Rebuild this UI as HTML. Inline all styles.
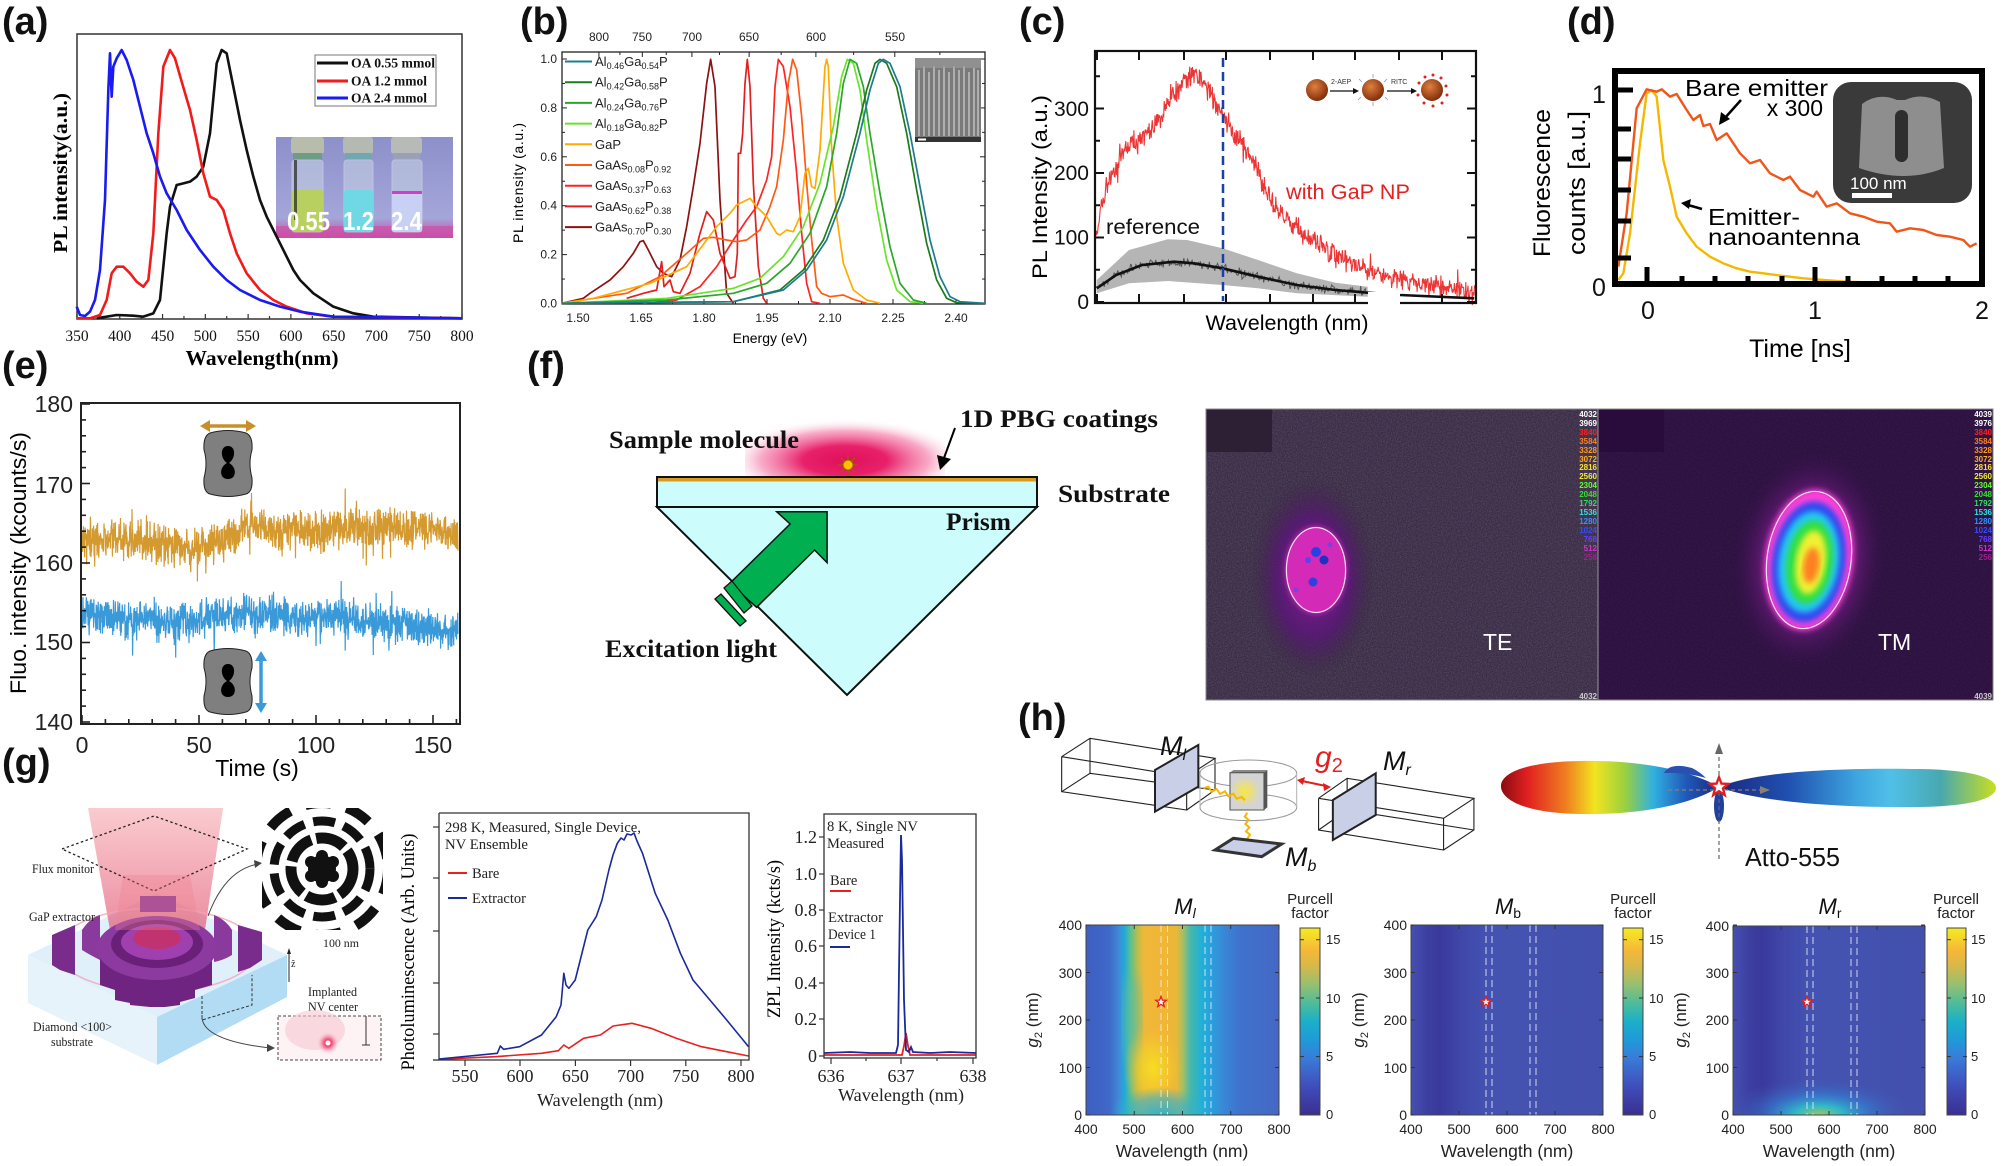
<!DOCTYPE html>
<html><head><meta charset="utf-8"><style>
html,body{margin:0;padding:0;background:#fff;}
svg{display:block;}
.sans{font-family:"Liberation Sans",Arial,sans-serif;}
.serif{font-family:"Liberation Serif","Times New Roman",serif;}
</style></head><body>
<svg id="S" width="2006" height="1166" viewBox="0 0 2006 1166" xmlns="http://www.w3.org/2000/svg" class="sans">
<defs>
<linearGradient id="lav" x1="0" y1="0" x2="0" y2="1"><stop offset="0" stop-color="#8d90c9"/><stop offset="0.8" stop-color="#a4a6da"/><stop offset="1" stop-color="#c04aa0"/></linearGradient>
<radialGradient id="brown" cx="0.4" cy="0.35" r="0.7"><stop offset="0" stop-color="#e08040"/><stop offset="1" stop-color="#7a2808"/></radialGradient>
<radialGradient id="pinkglow" cx="0.5" cy="0.75" r="0.6"><stop offset="0" stop-color="#e0105a"/><stop offset="0.35" stop-color="#e8206a"/><stop offset="0.7" stop-color="#f470a0" stop-opacity="0.6"/><stop offset="1" stop-color="#ffffff" stop-opacity="0"/></radialGradient>
<radialGradient id="teglow" cx="0.5" cy="0.5" r="0.5"><stop offset="0" stop-color="#8a1aa0"/><stop offset="0.6" stop-color="#5a1578" stop-opacity="0.8"/><stop offset="1" stop-color="#3a2045" stop-opacity="0"/></radialGradient>
<radialGradient id="tmglow" cx="0.5" cy="0.5" r="0.5"><stop offset="0" stop-color="#c02aa8"/><stop offset="0.6" stop-color="#701a80" stop-opacity="0.7"/><stop offset="1" stop-color="#2a0f40" stop-opacity="0"/></radialGradient>
<linearGradient id="lobeL" x1="1501" y1="0" x2="1719" y2="0" gradientUnits="userSpaceOnUse"><stop offset="0" stop-color="#8a0c10"/><stop offset="0.12" stop-color="#e02020"/><stop offset="0.3" stop-color="#f08020"/><stop offset="0.43" stop-color="#f2e420"/><stop offset="0.57" stop-color="#9ad040"/><stop offset="0.7" stop-color="#30b0e0"/><stop offset="0.85" stop-color="#2058b8"/><stop offset="1" stop-color="#1c2a80"/></linearGradient>
<linearGradient id="lobeR" x1="1719" y1="0" x2="1996" y2="0" gradientUnits="userSpaceOnUse"><stop offset="0" stop-color="#1a2880"/><stop offset="0.25" stop-color="#2050b0"/><stop offset="0.5" stop-color="#3ea6e0"/><stop offset="0.62" stop-color="#50c0e8"/><stop offset="0.8" stop-color="#48a8b0"/><stop offset="1" stop-color="#c8e020"/></linearGradient>
<linearGradient id="hm1" x1="0" y1="0" x2="1" y2="0">
<stop offset="0" stop-color="#3d5fc2"/><stop offset="0.12" stop-color="#3f68c8"/><stop offset="0.17" stop-color="#3f8ad8"/><stop offset="0.2" stop-color="#22aad8"/><stop offset="0.23" stop-color="#5abf90"/><stop offset="0.27" stop-color="#c0bd48"/><stop offset="0.3" stop-color="#eeb83a"/><stop offset="0.4" stop-color="#f3b535"/><stop offset="0.47" stop-color="#e8b83a"/><stop offset="0.5" stop-color="#a8c060"/><stop offset="0.54" stop-color="#48b8a8"/><stop offset="0.6" stop-color="#20b0d8"/><stop offset="0.65" stop-color="#2b9fdc"/><stop offset="0.72" stop-color="#3a85d5"/><stop offset="0.8" stop-color="#3f72cc"/><stop offset="1" stop-color="#4468c4"/></linearGradient>
<linearGradient id="hm2" x1="0" y1="0" x2="1" y2="0"><stop offset="0" stop-color="#4550b0"/><stop offset="0.08" stop-color="#3d40a2"/><stop offset="0.15" stop-color="#3a389c"/><stop offset="0.25" stop-color="#3f46a8"/><stop offset="0.4" stop-color="#4453b1"/><stop offset="1" stop-color="#4350ad"/></linearGradient>
<radialGradient id="yblob" cx="0.5" cy="0.5" r="0.5"><stop offset="0" stop-color="#f6e020" stop-opacity="0.95"/><stop offset="0.5" stop-color="#f5d028" stop-opacity="0.6"/><stop offset="1" stop-color="#f3b535" stop-opacity="0"/></radialGradient>
<radialGradient id="cyanb" cx="0.5" cy="0.5" r="0.5"><stop offset="0" stop-color="#2ab4d0" stop-opacity="0.95"/><stop offset="0.6" stop-color="#30b0d0" stop-opacity="0.6"/><stop offset="1" stop-color="#30b0d0" stop-opacity="0"/></radialGradient>
<radialGradient id="hm3glow" cx="0.5" cy="0.5" r="0.5"><stop offset="0" stop-color="#9cc860"/><stop offset="0.25" stop-color="#30b8c8"/><stop offset="0.55" stop-color="#3282d5" stop-opacity="0.6"/><stop offset="1" stop-color="#4350ad" stop-opacity="0"/></radialGradient>
<linearGradient id="parula" x1="0" y1="1" x2="0" y2="0"><stop offset="0" stop-color="#3b2f8f"/><stop offset="0.15" stop-color="#3f4dbb"/><stop offset="0.3" stop-color="#3b7ad8"/><stop offset="0.4" stop-color="#1f9ad8"/><stop offset="0.5" stop-color="#1ab0c8"/><stop offset="0.6" stop-color="#50bc98"/><stop offset="0.7" stop-color="#98c070"/><stop offset="0.8" stop-color="#d8b848"/><stop offset="0.88" stop-color="#f5b838"/><stop offset="1" stop-color="#f5ec20"/></linearGradient>
<radialGradient id="yglow" cx="0.5" cy="0.5" r="0.5"><stop offset="0" stop-color="#f8e840"/><stop offset="1" stop-color="#f8e840" stop-opacity="0"/></radialGradient>
<radialGradient id="reddot" cx="0.5" cy="0.5" r="0.5"><stop offset="0" stop-color="#ff2050"/><stop offset="0.4" stop-color="#f04070" stop-opacity="0.8"/><stop offset="1" stop-color="#ffc0d0" stop-opacity="0"/></radialGradient>
<linearGradient id="cone" x1="0" y1="0" x2="0" y2="1"><stop offset="0" stop-color="#f5a0a8" stop-opacity="0.55"/><stop offset="1" stop-color="#e04060" stop-opacity="0.6"/></linearGradient>
<filter id="noise" x="0" y="0" width="1" height="1"><feTurbulence type="fractalNoise" baseFrequency="0.8" numOctaves="1" seed="4"/><feColorMatrix type="matrix" values="0 0 0 0 0.75  0 0 0 0 0.7  0 0 0 0 0.75  0.9 0 0 0 -0.3"/></filter>
<filter id="blur3"><feGaussianBlur stdDeviation="3"/></filter>
<filter id="blur6"><feGaussianBlur stdDeviation="6"/></filter>
<clipPath id="cpPat"><rect x="262" y="808" width="121" height="122"/></clipPath>
<clipPath id="cpTE"><rect x="1206" y="409" width="392" height="291"/></clipPath>
<clipPath id="cpTM"><rect x="1598" y="409" width="395" height="291"/></clipPath>
<polygon id="star" points="0,-5.5 1.35,-1.9 5.2,-1.7 2.2,0.7 3.2,4.5 0,2.3 -3.2,4.5 -2.2,0.7 -5.2,-1.7 -1.35,-1.9" fill="#fff" stroke="#e02020" stroke-width="1.3"/>
</defs>
<rect width="2006" height="1166" fill="#fff"/>

<!-- panel labels -->
<g font-weight="bold" font-size="38" fill="#111">
<text x="2" y="34">(a)</text><text x="520" y="34">(b)</text><text x="1019" y="34">(c)</text><text x="1567" y="34">(d)</text>
<text x="2" y="378">(e)</text><text x="527" y="378">(f)</text><text x="2" y="775">(g)</text><text x="1018" y="730">(h)</text>
</g>

<!-- ================= (a) ================= -->
<g id="pa">
<rect x="77" y="34" width="385" height="285" fill="none" stroke="#333" stroke-width="1.5"/>
<g id="aticks" stroke="#333" stroke-width="1.2"></g>
<g class="serif" font-size="15.5" text-anchor="middle" fill="#111">
<text x="77" y="341">350</text><text x="119.8" y="341">400</text><text x="162.6" y="341">450</text><text x="205.3" y="341">500</text><text x="248.1" y="341">550</text><text x="290.9" y="341">600</text><text x="333.7" y="341">650</text><text x="376.4" y="341">700</text><text x="419.2" y="341">750</text><text x="462" y="341">800</text>
</g>
<text class="serif" x="262" y="365" font-size="21" font-weight="bold" text-anchor="middle" textLength="153" lengthAdjust="spacingAndGlyphs">Wavelength(nm)</text>
<text class="serif" transform="translate(67,173) rotate(-90)" font-size="20" font-weight="bold" text-anchor="middle" textLength="160" lengthAdjust="spacingAndGlyphs">PL intensity(a.u.)</text>
<rect x="276" y="137" width="177" height="101" fill="url(#lav)"/>
<rect x="276" y="226" width="177" height="12" fill="#d050a8" opacity="0.7"/>
<g>
<rect x="291" y="137" width="33" height="17" rx="3" fill="#b8bcaa"/><rect x="293" y="153" width="29" height="7" fill="#6e9c84"/>
<rect x="292" y="160" width="31" height="72" rx="3" fill="#c8d4e4" opacity="0.55" stroke="#e0e4f0" stroke-width="1"/>
<rect x="292" y="190" width="31" height="42" rx="2" fill="#b8d060"/>
<rect x="294" y="160" width="3" height="60" fill="#222" opacity="0.7"/>
<rect x="343" y="137" width="30" height="17" rx="3" fill="#b4bab2"/><rect x="345" y="153" width="26" height="7" fill="#70a8b0"/>
<rect x="344" y="160" width="29" height="72" rx="3" fill="#c8d4e4" opacity="0.55" stroke="#e0e4f0" stroke-width="1"/>
<rect x="344" y="190" width="29" height="42" rx="2" fill="#70d8e4"/>
<rect x="391" y="137" width="31" height="17" rx="3" fill="#b8bab8"/><rect x="393" y="153" width="27" height="7" fill="#9aa0b8"/>
<rect x="392" y="160" width="30" height="72" rx="3" fill="#c8d4e4" opacity="0.55" stroke="#e0e4f0" stroke-width="1"/>
<rect x="392" y="192" width="30" height="40" rx="2" fill="#c8d0f4"/><rect x="392" y="191" width="30" height="3" fill="#d040c0"/>
</g>
<g fill="#fff" font-weight="bold" font-size="26">
<text x="287" y="230" textLength="43" lengthAdjust="spacingAndGlyphs">0.55</text>
<text x="343" y="230" textLength="31" lengthAdjust="spacingAndGlyphs">1.2</text>
<text x="391" y="230" textLength="31" lengthAdjust="spacingAndGlyphs">2.4</text>
</g>
<g transform="scale(0.33333)" fill="none" stroke-width="2.6" stroke-linejoin="round">
<polyline vector-effect="non-scaling-stroke" stroke="#111" points="290,955 350,945 400,947 430,950 460,940 480,900 500,700 510,620 530,555 550,550 570,545 590,530 610,500 630,400 650,190 665,150 680,160 700,260 720,360 740,450 760,530 780,600 800,650 820,690 840,730 860,770 880,810 900,840 940,880 1000,920 1060,940 1120,950 1385,955"/>
<polyline vector-effect="non-scaling-stroke" stroke="#f21a1a" points="230,955 270,955 300,945 320,900 335,820 350,800 370,800 390,820 410,845 430,860 445,840 460,700 475,400 490,200 510,150 525,175 545,245 570,330 590,420 610,520 630,590 650,600 670,630 690,700 710,760 740,820 780,870 820,900 860,920 920,940 1000,950 1385,955"/>
<polyline vector-effect="non-scaling-stroke" stroke="#1a1af2" points="230,920 240,945 255,948 270,935 285,900 300,810 315,600 325,270 330,160 335,290 340,200 350,175 365,150 380,180 400,240 420,320 440,400 460,460 480,530 500,580 530,630 560,690 600,750 640,800 680,840 720,870 780,900 840,920 900,935 1000,950 1385,955"/>
</g>
<rect x="315" y="55" width="121" height="51" fill="#fff" stroke="#777" stroke-width="1"/>
<line x1="317" y1="63" x2="348" y2="63" stroke="#111" stroke-width="3"/>
<line x1="317" y1="81" x2="348" y2="81" stroke="#f21a1a" stroke-width="3"/>
<line x1="317" y1="98" x2="348" y2="98" stroke="#1a1af2" stroke-width="3"/>
<g class="serif" font-weight="bold" font-size="13.5" fill="#111">
<text x="351" y="67.5" textLength="84" lengthAdjust="spacingAndGlyphs">OA 0.55 mmol</text>
<text x="351" y="85.5" textLength="76" lengthAdjust="spacingAndGlyphs">OA 1.2 mmol</text>
<text x="351" y="102.5" textLength="76" lengthAdjust="spacingAndGlyphs">OA 2.4 mmol</text>
</g>
</g>

<!-- ================= (b) ================= -->
<g id="pb">
<rect x="562" y="52" width="423" height="252" fill="none" stroke="#222" stroke-width="1.3"/>
<g id="bticks" stroke="#222" stroke-width="1"></g>
<g font-size="12" fill="#222" text-anchor="end">
<text x="557" y="307.5">0.0</text><text x="557" y="258.6">0.2</text><text x="557" y="209.7">0.4</text><text x="557" y="160.8">0.6</text><text x="557" y="111.9">0.8</text><text x="557" y="63">1.0</text>
</g>
<g font-size="12" fill="#222" text-anchor="middle">
<text x="578" y="322">1.50</text><text x="641" y="322">1.65</text><text x="704" y="322">1.80</text><text x="767" y="322">1.95</text><text x="830" y="322">2.10</text><text x="893" y="322">2.25</text><text x="956" y="322">2.40</text>
<text x="599" y="41">800</text><text x="642" y="41">750</text><text x="692" y="41">700</text><text x="749" y="41">650</text><text x="816" y="41">600</text><text x="895" y="41">550</text>
</g>
<text x="770" y="343" font-size="14" text-anchor="middle">Energy (eV)</text>
<text transform="translate(523,183) rotate(-90)" font-size="14" text-anchor="middle" textLength="120">PL intensity (a.u.)</text>
<rect x="915" y="58" width="66" height="84" fill="#7a7a7a"/>
<g stroke="#d8d8d8" stroke-width="1.3" opacity="0.85">
<line x1="919" y1="70" x2="919" y2="136"/><line x1="924" y1="66" x2="924" y2="136"/><line x1="929" y1="72" x2="929" y2="136"/><line x1="934" y1="66" x2="934" y2="136"/><line x1="939" y1="70" x2="939" y2="136"/><line x1="944" y1="66" x2="944" y2="136"/><line x1="949" y1="72" x2="949" y2="136"/><line x1="954" y1="66" x2="954" y2="136"/><line x1="959" y1="70" x2="959" y2="136"/><line x1="964" y1="66" x2="964" y2="136"/><line x1="969" y1="72" x2="969" y2="136"/><line x1="974" y1="68" x2="974" y2="136"/><line x1="978" y1="70" x2="978" y2="136"/>
</g>
<rect x="915" y="58" width="66" height="10" fill="#9a9a9a" opacity="0.7"/>
<rect x="915" y="137" width="66" height="5" fill="#333"/><rect x="918" y="138.5" width="8" height="2" fill="#fff"/>
<g transform="translate(500,0) scale(0.33333)" fill="none" stroke-width="1.7" stroke-linejoin="round">
<polyline vector-effect="non-scaling-stroke" stroke="#8b1212" points="185,910 250,895 270,880 300,860 330,840 370,800 400,760 420,725 430,722 445,750 470,800 490,820 515,830 540,780 560,680 580,560 600,430 620,250 632,178 645,260 660,600 680,880 700,910"/>
<polyline vector-effect="non-scaling-stroke" stroke="#e02020" points="380,895 430,880 470,870 485,785 492,860 510,840 520,875 540,880 570,820 600,700 620,635 640,660 660,760 690,835 705,830 712,760 715,460 722,460 728,400 735,250 742,178 750,260 760,550 775,800 790,895 800,910"/>
<polyline vector-effect="non-scaling-stroke" stroke="#ff2424" points="430,910 530,900 600,860 650,800 700,720 740,660 770,620 800,540 815,470 825,260 835,178 850,200 870,320 890,520 905,700 920,850 935,905 960,910"/>
<polyline vector-effect="non-scaling-stroke" stroke="#ff5a14" points="185,910 380,880 480,830 560,760 610,715 640,712 680,720 710,725 740,720 780,690 810,620 830,560 850,420 865,250 878,178 890,210 905,350 920,550 935,720 950,860 965,880 990,890 1030,885 1060,898 1100,910"/>
<polyline vector-effect="non-scaling-stroke" stroke="#ffab00" points="185,910 280,895 450,850 560,800 620,720 650,680 690,640 710,615 750,595 770,620 800,650 830,700 840,705 860,690 880,695 900,650 915,520 925,505 935,560 945,565 960,450 975,200 980,178 985,200 995,450 1010,650 1030,790 1060,870 1100,900 1140,910"/>
<polyline vector-effect="non-scaling-stroke" stroke="#6be22b" points="185,910 500,895 700,865 780,835 850,770 910,680 960,550 1000,380 1025,230 1042,178 1060,190 1080,270 1100,420 1130,620 1160,780 1190,870 1230,905 1270,910"/>
<polyline vector-effect="non-scaling-stroke" stroke="#29a829" points="185,910 500,900 700,880 800,850 870,790 930,700 980,560 1010,400 1030,250 1050,178 1070,190 1090,260 1110,400 1140,580 1170,740 1200,850 1240,900 1280,910"/>
<polyline vector-effect="non-scaling-stroke" stroke="#1e7a1e" points="185,910 700,905 840,870 910,810 970,720 1020,590 1070,400 1100,270 1125,190 1140,178 1160,190 1190,260 1220,400 1250,570 1280,730 1310,840 1340,895 1370,908 1455,910"/>
<polyline vector-effect="non-scaling-stroke" stroke="#1c7c8c" points="185,910 700,905 850,870 920,810 980,720 1030,590 1080,400 1110,270 1135,190 1150,178 1170,190 1200,260 1230,400 1260,560 1290,720 1320,830 1350,890 1380,905 1455,910"/>
</g>
<g stroke-width="2">
<line x1="565" y1="61.5" x2="592" y2="61.5" stroke="#1c7c8c"/><line x1="565" y1="82.2" x2="592" y2="82.2" stroke="#1e7a1e"/><line x1="565" y1="102.9" x2="592" y2="102.9" stroke="#29a829"/><line x1="565" y1="123.6" x2="592" y2="123.6" stroke="#6be22b"/><line x1="565" y1="144.3" x2="592" y2="144.3" stroke="#ffab00"/><line x1="565" y1="165" x2="592" y2="165" stroke="#ff5a14"/><line x1="565" y1="185.7" x2="592" y2="185.7" stroke="#ff2424"/><line x1="565" y1="206.4" x2="592" y2="206.4" stroke="#e02020"/><line x1="565" y1="227.1" x2="592" y2="227.1" stroke="#8b1212"/>
</g>
<g font-size="13" fill="#222">
<text x="595" y="66">Al<tspan font-size="9" dy="3">0.46</tspan><tspan dy="-3">Ga</tspan><tspan font-size="9" dy="3">0.54</tspan><tspan dy="-3">P</tspan></text>
<text x="595" y="86.7">Al<tspan font-size="9" dy="3">0.42</tspan><tspan dy="-3">Ga</tspan><tspan font-size="9" dy="3">0.58</tspan><tspan dy="-3">P</tspan></text>
<text x="595" y="107.4">Al<tspan font-size="9" dy="3">0.24</tspan><tspan dy="-3">Ga</tspan><tspan font-size="9" dy="3">0.76</tspan><tspan dy="-3">P</tspan></text>
<text x="595" y="128.1">Al<tspan font-size="9" dy="3">0.18</tspan><tspan dy="-3">Ga</tspan><tspan font-size="9" dy="3">0.82</tspan><tspan dy="-3">P</tspan></text>
<text x="595" y="148.8">GaP</text>
<text x="595" y="169.5">GaAs<tspan font-size="9" dy="3">0.08</tspan><tspan dy="-3">P</tspan><tspan font-size="9" dy="3">0.92</tspan></text>
<text x="595" y="190.2">GaAs<tspan font-size="9" dy="3">0.37</tspan><tspan dy="-3">P</tspan><tspan font-size="9" dy="3">0.63</tspan></text>
<text x="595" y="210.9">GaAs<tspan font-size="9" dy="3">0.62</tspan><tspan dy="-3">P</tspan><tspan font-size="9" dy="3">0.38</tspan></text>
<text x="595" y="231.6">GaAs<tspan font-size="9" dy="3">0.70</tspan><tspan dy="-3">P</tspan><tspan font-size="9" dy="3">0.30</tspan></text>
</g>
</g>

<!-- ================= (c) ================= -->
<g id="pc">
<polygon points="1096.8,280 1129,250 1167.7,239.3 1187,240 1222.6,248.3 1258,260 1296.8,273.3 1335.5,282.7 1367.7,286.7 1367.7,296.7 1296.8,293.3 1258,288.3 1222.6,285 1167.7,281 1129,283.3 1096.8,293.3" fill="#a8a8a8" opacity="0.85"/>
<path id="cred" d="" fill="none" stroke="#ec3636" stroke-width="1.1"/>
<path id="cgray" d="" fill="none" stroke="#555" stroke-width="1"/>
<polyline points="1096.8,288.3 1116.1,275 1141.9,265 1174.2,261.7 1193.5,263.3 1222.6,268.3 1258,276.7 1296.8,285 1335.5,290 1367.7,292.7 1400,295 1474.2,298.3" fill="none" stroke="#111" stroke-width="2.6"/>
<line x1="1223" y1="58" x2="1223" y2="301" stroke="#1f3fa8" stroke-width="2.5" stroke-dasharray="9,5"/>
<rect x="1095" y="51" width="381" height="252" fill="none" stroke="#111" stroke-width="2.2"/>
<g id="cticks" stroke="#111" stroke-width="2"></g>
<rect x="1368" y="292" width="32" height="14" fill="#fff"/>
<g font-size="21" fill="#111" text-anchor="end">
<text x="1089" y="309">0</text><text x="1089" y="244.5">100</text><text x="1089" y="180">200</text><text x="1089" y="116">300</text>
</g>
<text x="1287" y="330" font-size="21" text-anchor="middle" textLength="163" lengthAdjust="spacingAndGlyphs">Wavelength (nm)</text>
<text transform="translate(1047,187) rotate(-90)" font-size="21" text-anchor="middle" textLength="184" lengthAdjust="spacingAndGlyphs">PL Intensity (a.u.)</text>
<text x="1286" y="199" font-size="21" fill="#e82020" textLength="124" lengthAdjust="spacingAndGlyphs">with GaP NP</text>
<text x="1106" y="234" font-size="21" fill="#111" textLength="94" lengthAdjust="spacingAndGlyphs">reference</text>
<circle cx="1317" cy="90" r="11" fill="url(#brown)"/><circle cx="1373" cy="90" r="11" fill="url(#brown)"/><circle cx="1432" cy="90" r="11" fill="url(#brown)"/>
<g stroke="#111" stroke-width="1.2"><line x1="1330" y1="91" x2="1356" y2="91"/><line x1="1387" y1="91" x2="1414" y2="91"/></g>
<polygon points="1359,91 1353,88 1353,94" fill="#111"/><polygon points="1417,91 1411,88 1411,94" fill="#111"/>
<text x="1331" y="84" font-size="7" fill="#333">2-AEP</text><text x="1391" y="84" font-size="7" fill="#333">RITC</text>
<g fill="#e02020"><circle cx="1419" cy="83" r="1.5"/><circle cx="1425" cy="77" r="1.5"/><circle cx="1433" cy="75" r="1.5"/><circle cx="1441" cy="78" r="1.5"/><circle cx="1446" cy="86" r="1.5"/><circle cx="1447" cy="95" r="1.5"/><circle cx="1442" cy="103" r="1.5"/><circle cx="1433" cy="106" r="1.5"/><circle cx="1424" cy="103" r="1.5"/><circle cx="1418" cy="95" r="1.5"/></g>
<g stroke="#8898b8" stroke-width="0.8" fill="none"><path d="M1362,82 l-3,-3 M1373,78 l0,-4 M1384,82 l3,-3 M1385,97 l3,3 M1373,102 l0,4 M1361,97 l-3,3"/></g>
</g>

<!-- ================= (d) ================= -->
<g id="pd">
<rect x="1833" y="82" width="139" height="121" rx="18" fill="#3a3a3a"/>
<path d="M1862,104 Q1878,92 1897,100 L1905,100 Q1922,92 1940,102 L1944,168 Q1905,184 1859,168 Z" fill="#8e8e8e"/>
<rect x="1895" y="110" width="13" height="52" rx="6.5" fill="#2e2e2e"/>
<text x="1850" y="189" font-size="17" fill="#fff">100 nm</text>
<rect x="1852" y="193" width="40" height="5" fill="#fff"/>
<g transform="translate(1530,0) scale(0.33333)" fill="none" stroke-width="2.4" stroke-linejoin="round">
<polyline vector-effect="non-scaling-stroke" stroke="#f5b800" points="265,840 280,820 300,700 330,430 350,280 365,270 380,290 400,480 420,560 440,650 470,700 500,740 540,770 580,790 620,805 660,815 700,820 760,828 820,835 880,840 950,845 1050,848 1150,850"/>
<polyline vector-effect="non-scaling-stroke" stroke="#f0561a" points="265,800 290,640 320,325 350,268 380,275 395,268 420,290 440,282 470,330 490,360 510,345 520,378 540,372 560,420 590,400 630,460 660,490 690,480 720,520 760,540 780,530 810,570 850,590 860,575 890,620 920,610 960,640 1000,650 1040,665 1080,670 1100,695 1140,685 1180,690 1220,705 1260,710 1300,720 1320,740 1340,730"/>
</g>
<rect x="1615" y="71" width="367" height="213" fill="none" stroke="#000" stroke-width="6"/>
<g stroke="#000" stroke-width="5">
<line x1="1618" y1="90" x2="1633" y2="90"/><line x1="1618" y1="129" x2="1631" y2="129"/><line x1="1618" y1="159" x2="1631" y2="159"/><line x1="1618" y1="190" x2="1631" y2="190"/><line x1="1618" y1="221" x2="1631" y2="221"/><line x1="1618" y1="258" x2="1631" y2="258"/>
<line x1="1647" y1="281" x2="1647" y2="267"/><line x1="1815" y1="281" x2="1815" y2="267"/>
<line x1="1682" y1="281" x2="1682" y2="276"/><line x1="1715" y1="281" x2="1715" y2="276"/><line x1="1748" y1="281" x2="1748" y2="276"/><line x1="1782" y1="281" x2="1782" y2="276"/><line x1="1848" y1="281" x2="1848" y2="276"/><line x1="1882" y1="281" x2="1882" y2="276"/><line x1="1915" y1="281" x2="1915" y2="276"/><line x1="1948" y1="281" x2="1948" y2="276"/>
</g>
<g font-size="25" fill="#111" text-anchor="middle">
<text x="1599" y="103">1</text><text x="1599" y="296">0</text>
<text x="1648" y="319">0</text><text x="1815" y="319">1</text><text x="1982" y="319">2</text>
</g>
<text x="1800" y="357" font-size="25" text-anchor="middle">Time [ns]</text>
<text transform="translate(1550,183) rotate(-90)" font-size="24" text-anchor="middle" textLength="148" lengthAdjust="spacingAndGlyphs">Fluorescence</text>
<text transform="translate(1585,183) rotate(-90)" font-size="24" text-anchor="middle" textLength="144" lengthAdjust="spacingAndGlyphs">counts [a.u.]</text>
<text x="1685" y="96" font-size="23" textLength="143" lengthAdjust="spacingAndGlyphs">Bare emitter</text>
<text x="1823" y="116" font-size="23" text-anchor="end">x 300</text>
<text x="1708" y="225" font-size="23" textLength="92" lengthAdjust="spacingAndGlyphs">Emitter-</text>
<text x="1708" y="245" font-size="23" textLength="152" lengthAdjust="spacingAndGlyphs">nanoantenna</text>
<line x1="1741" y1="100" x2="1724" y2="119" stroke="#000" stroke-width="2.5"/><polygon points="1719,125 1721,112 1730,119" fill="#000"/>
<line x1="1702" y1="209" x2="1688" y2="205" stroke="#000" stroke-width="2.5"/><polygon points="1681,203 1691,199 1689,209" fill="#000"/>
</g>

<!-- ================= (e) ================= -->
<g id="pe">
<path id="eor" d="" fill="none" stroke="#d4992f" stroke-width="1.2"/>
<path id="ebl" d="" fill="none" stroke="#3a9ad9" stroke-width="1.2"/>
<rect x="81" y="403" width="379" height="321" fill="none" stroke="#222" stroke-width="2"/>
<g id="eticks" stroke="#222" stroke-width="1.6"></g>
<g font-size="23" fill="#222" text-anchor="end">
<text x="73" y="412">180</text><text x="73" y="493">170</text><text x="73" y="571">160</text><text x="73" y="650">150</text><text x="73" y="730">140</text>
</g>
<g font-size="23" fill="#222" text-anchor="middle">
<text x="82" y="753">0</text><text x="199" y="753">50</text><text x="316" y="753">100</text><text x="433" y="753">150</text>
</g>
<text x="257" y="776" font-size="23" text-anchor="middle">Time (s)</text>
<text transform="translate(26,563) rotate(-90)" font-size="22" text-anchor="middle" textLength="262" lengthAdjust="spacingAndGlyphs">Fluo. intensity (kcounts/s)</text>
<path d="M210,433 Q228,428 246,433 Q253,436 252,450 Q248,463 252,478 Q253,492 246,494 Q228,499 210,494 Q203,492 204,478 Q208,463 204,450 Q203,436 210,433 Z" fill="#7f7f7f" stroke="#222" stroke-width="1"/>
<path d="M228,446 C236,446 236,458 229,463 C237,467 237,479 228,479 C219,479 219,467 227,463 C220,458 220,446 228,446 Z" fill="#000"/>
<line x1="206" y1="426" x2="250" y2="426" stroke="#c8902a" stroke-width="3.5"/>
<polygon points="200,426 210,420 210,432" fill="#c8902a"/><polygon points="256,426 246,420 246,432" fill="#c8902a"/>
<path d="M210,651 Q228,646 246,651 Q253,654 252,668 Q248,681 252,696 Q253,710 246,712 Q228,717 210,712 Q203,710 204,696 Q208,681 204,668 Q203,654 210,651 Z" fill="#7f7f7f" stroke="#222" stroke-width="1"/>
<path d="M228,664 C236,664 236,676 229,681 C237,685 237,697 228,697 C219,697 219,685 227,681 C220,676 220,664 228,664 Z" fill="#000"/>
<line x1="261" y1="657" x2="261" y2="707" stroke="#3a9ad9" stroke-width="3.5"/>
<polygon points="261,651 255,661 267,661" fill="#3a9ad9"/><polygon points="261,713 255,703 267,703" fill="#3a9ad9"/>
</g>

<!-- ================= (f) left ================= -->
<g id="pf">
<rect x="745" y="408" width="200" height="70" fill="url(#pinkglow)"/>
<polygon points="657,507 1037,507 847,695" fill="#ccfcfc" stroke="#111" stroke-width="2"/>
<rect x="657" y="477" width="380" height="30" fill="#ccfcfc" stroke="#111" stroke-width="2"/>
<rect x="658" y="478" width="378" height="3.5" fill="#d89a20"/>
<polygon points="729.8,583.3 790.1,524 776.7,511.7 827.1,511.7 827.1,562.7 814.6,550 756.6,607.3" fill="#00b050" stroke="#111" stroke-width="1.5"/>
<polygon points="724,588 732,581 752,606 744,613" fill="#00b050" stroke="#111" stroke-width="1.3"/>
<polygon points="715,599 721,594 746,621 740,626" fill="#00b050" stroke="#111" stroke-width="1.3"/>
<g stroke="#a06000" stroke-width="1.2"><line x1="848" y1="455" x2="848" y2="475"/><line x1="838" y1="465" x2="858" y2="465"/><line x1="841" y1="458" x2="855" y2="472"/><line x1="855" y1="458" x2="841" y2="472"/></g>
<circle cx="848" cy="465" r="5" fill="#ffc000" stroke="#a06000" stroke-width="1"/>
<line x1="955" y1="428" x2="944" y2="458" stroke="#000" stroke-width="2"/><polygon points="940,470 937,455 951,459" fill="#000"/>
<g class="serif" font-weight="bold" font-size="25" fill="#111">
<text x="609" y="448" textLength="190" lengthAdjust="spacingAndGlyphs">Sample molecule</text>
<text x="960" y="427" textLength="198" lengthAdjust="spacingAndGlyphs">1D PBG coatings</text>
<text x="1058" y="502" textLength="112" lengthAdjust="spacingAndGlyphs">Substrate</text>
<text x="946" y="530" textLength="65" lengthAdjust="spacingAndGlyphs">Prism</text>
<text x="605" y="657" textLength="172" lengthAdjust="spacingAndGlyphs">Excitation light</text>
</g>
</g>

<!-- ================= (f) right images ================= -->
<g id="pfr">
<rect x="1206" y="409" width="392" height="291" fill="#3a2c46"/>
<rect x="1206" y="409" width="392" height="291" filter="url(#noise)" opacity="0.35"/>
<rect x="1206" y="409" width="66" height="43" fill="#2e2034"/>
<g clip-path="url(#cpTE)">
<ellipse cx="1313" cy="577" rx="62" ry="100" fill="url(#teglow)"/>
<ellipse cx="1316" cy="570" rx="30" ry="43" fill="#e030c0" filter="url(#blur3)"/>
<ellipse cx="1316" cy="570" rx="29.6" ry="42.5" fill="#d42ab8"/>
<circle cx="1316" cy="552" r="5" fill="#2a40e0"/><circle cx="1324" cy="560" r="4.5" fill="#2030c0"/><circle cx="1313" cy="582" r="4.5" fill="#3040e0"/><circle cx="1308" cy="560" r="3" fill="#6040f0"/><circle cx="1296" cy="590" r="2.5" fill="#8040e0"/><circle cx="1330" cy="545" r="2.5" fill="#8040e0"/>
<ellipse cx="1316" cy="570" rx="29.6" ry="42.5" fill="none" stroke="#f0e0f0" stroke-width="1.2"/>
</g>
<rect x="1598" y="409" width="395" height="291" fill="#2c1040"/>
<rect x="1598" y="409" width="395" height="291" filter="url(#noise)" opacity="0.12"/>
<rect x="1598" y="409" width="66" height="43" fill="#2a0c3c"/>
<g clip-path="url(#cpTM)" transform="rotate(8,1809,560)">
<ellipse cx="1809" cy="560" rx="80" ry="115" fill="url(#tmglow)"/>
<ellipse cx="1809" cy="560" rx="44" ry="71" fill="#ff40d8" filter="url(#blur3)"/>
<ellipse cx="1809" cy="562" rx="37" ry="61" fill="#3048f0" filter="url(#blur3)"/>
<ellipse cx="1809" cy="562" rx="30" ry="51" fill="#20c8f0" filter="url(#blur3)"/>
<ellipse cx="1810" cy="562" rx="23" ry="42" fill="#30e040" filter="url(#blur3)"/>
<ellipse cx="1811" cy="562" rx="15" ry="32" fill="#f0f030" filter="url(#blur3)"/>
<ellipse cx="1812" cy="565" rx="8" ry="18" fill="#ff8020" filter="url(#blur3)"/>
<ellipse cx="1809" cy="560" rx="42" ry="69" fill="none" stroke="#f0e0f0" stroke-width="1.2"/>
</g>
<line x1="1598" y1="409" x2="1598" y2="700" stroke="#999" stroke-width="1"/>
<rect x="1206" y="409" width="787" height="291" fill="none" stroke="#888" stroke-width="1"/>
<text x="1483" y="650" font-size="23" fill="#fff">TE</text>
<text x="1878" y="650" font-size="23" fill="#fff">TM</text>
<g font-size="8" text-anchor="end" font-weight="bold">
<text x="1597" y="417" fill="#fff">4032</text><text x="1597" y="426" fill="#fff">3969</text><text x="1597" y="435" fill="#ff2020">3840</text><text x="1597" y="444" fill="#ff8020">3584</text><text x="1597" y="453" fill="#ff9a20">3328</text><text x="1597" y="462" fill="#ffb020">3072</text><text x="1597" y="470" fill="#ffe030">2816</text><text x="1597" y="479" fill="#f0f030">2560</text><text x="1597" y="488" fill="#60ff30">2304</text><text x="1597" y="497" fill="#30e030">2048</text><text x="1597" y="506" fill="#30e060">1792</text><text x="1597" y="515" fill="#30e0e0">1536</text><text x="1597" y="524" fill="#3090ff">1280</text><text x="1597" y="533" fill="#3050ff">1024</text><text x="1597" y="542" fill="#6040ff">768</text><text x="1597" y="551" fill="#d030d0">512</text><text x="1597" y="560" fill="#a02090">256</text><text x="1597" y="699" fill="#ccc">4032</text>
<text x="1992" y="417" fill="#fff">4039</text><text x="1992" y="426" fill="#fff">3976</text><text x="1992" y="435" fill="#ff2020">3840</text><text x="1992" y="444" fill="#ff8020">3584</text><text x="1992" y="453" fill="#ff9a20">3328</text><text x="1992" y="462" fill="#ffb020">3072</text><text x="1992" y="470" fill="#ffe030">2816</text><text x="1992" y="479" fill="#f0f030">2560</text><text x="1992" y="488" fill="#60ff30">2304</text><text x="1992" y="497" fill="#30e030">2048</text><text x="1992" y="506" fill="#30e060">1792</text><text x="1992" y="515" fill="#30e0e0">1536</text><text x="1992" y="524" fill="#3090ff">1280</text><text x="1992" y="533" fill="#3050ff">1024</text><text x="1992" y="542" fill="#6040ff">768</text><text x="1992" y="551" fill="#d030d0">512</text><text x="1992" y="560" fill="#a02090">256</text><text x="1992" y="699" fill="#ccc">4039</text>
</g>
</g>

<!-- ================= (g) left illustration ================= -->
<g id="pg">
<polygon points="28,955 157,893 287,955 157,1017" fill="#dff0fa"/>
<polygon points="28,955 157,1017 157,1065 28,1003" fill="#e6f3fb"/>
<polygon points="157,1017 287,955 287,997 157,1065" fill="#b2dcf3"/>
<polygon points="88,808 223,808 205,930 110,930" fill="url(#cone)"/>
<polygon points="62,849 154,816 247,849 154,891" fill="none" stroke="#222" stroke-width="1.3" stroke-dasharray="2.5,2.5"/>
<ellipse cx="157" cy="950" rx="100" ry="42" fill="none" stroke="#f4a0b8" stroke-width="1.5" opacity="0.8"/>
<path d="M52,935 L75,925 L75,975 L60,970 L52,965 Z" fill="#7a2c8c"/>
<path d="M238,925 L262,932 L262,960 L250,968 L238,972 Z" fill="#7a2c8c"/>
<path d="M82,930 Q90,918 100,915 L100,960 Q90,955 82,950 Z" fill="#8a3a9c"/>
<path d="M214,915 Q226,920 232,930 L232,955 Q224,960 214,962 Z" fill="#8a3a9c"/>
<path d="M100,955 L100,985 L115,990 L115,1000 L130,1003 L130,1005 L150,1007 L165,1007 L180,1005 L180,1002 L195,998 L195,990 L212,985 L212,955 Z" fill="#6e2480"/>
<ellipse cx="157" cy="948" rx="60" ry="32" fill="#8c3aa0"/>
<ellipse cx="157" cy="944" rx="46" ry="24" fill="#6a2078"/>
<ellipse cx="157" cy="942" rx="36" ry="18" fill="#a040b0"/>
<ellipse cx="157" cy="938" rx="24" ry="11" fill="#c03270"/>
<rect x="140" y="896" width="36" height="16" fill="#8a3a9c"/>
<polygon points="123,875 190,875 200,930 115,930" fill="#f08090" opacity="0.35"/>
<g clip-path="url(#cpPat)">
<rect x="262" y="808" width="121" height="122" fill="#fff"/>
<circle cx="322" cy="869" r="66" fill="none" stroke="#111" stroke-width="10" stroke-dasharray="26,16"/>
<circle cx="322" cy="869" r="48" fill="none" stroke="#111" stroke-width="9" stroke-dasharray="22,9"/>
<circle cx="322" cy="869" r="31" fill="none" stroke="#111" stroke-width="11" stroke-dasharray="30,5"/>
<circle cx="322" cy="869" r="14" fill="#111"/>
<circle cx="322" cy="856" r="6" fill="#111"/><circle cx="333" cy="862" r="6" fill="#111"/><circle cx="333" cy="876" r="6" fill="#111"/><circle cx="322" cy="882" r="6" fill="#111"/><circle cx="311" cy="876" r="6" fill="#111"/><circle cx="311" cy="862" r="6" fill="#111"/>
</g>
<g class="serif" fill="#222">
<text x="32" y="873" font-size="12.5" textLength="62" lengthAdjust="spacingAndGlyphs">Flux monitor</text>
<text x="29" y="921" font-size="12.5" textLength="66" lengthAdjust="spacingAndGlyphs">GaP extractor</text>
<text x="33" y="1031" font-size="12.5" textLength="79" lengthAdjust="spacingAndGlyphs">Diamond &lt;100&gt;</text>
<text x="51" y="1046" font-size="12.5" textLength="42" lengthAdjust="spacingAndGlyphs">substrate</text>
<text x="308" y="996" font-size="12.5" textLength="49" lengthAdjust="spacingAndGlyphs">Implanted</text>
<text x="308" y="1011" font-size="12.5" textLength="50" lengthAdjust="spacingAndGlyphs">NV center</text>
<text x="323" y="947" font-size="12" textLength="36" lengthAdjust="spacingAndGlyphs">100 nm</text>
<text x="343" y="1057" font-size="12" textLength="36" lengthAdjust="spacingAndGlyphs">100 nm</text>
<text x="291" y="967" font-size="10">ẑ</text>
</g>
<line x1="289" y1="982" x2="289" y2="952" stroke="#222" stroke-width="1"/><polygon points="289,948 287,954 291,954" fill="#222"/>
<rect x="278" y="1016" width="103" height="44" fill="#fdf2f4" stroke="#444" stroke-width="1" stroke-dasharray="3,2"/>
<ellipse cx="315" cy="1030" rx="30" ry="20" fill="#f6c8d0" opacity="0.6"/>
<circle cx="328" cy="1043" r="11" fill="url(#reddot)"/><circle cx="328" cy="1043" r="2.5" fill="#fff"/>
<line x1="366" y1="1016" x2="366" y2="1045" stroke="#333" stroke-width="1"/><line x1="362" y1="1045" x2="370" y2="1045" stroke="#333" stroke-width="1"/>
<path d="M202,996 L202,1020 L252,1005 L252,975" fill="none" stroke="#333" stroke-width="1" stroke-dasharray="3,2"/>
<path d="M208,916 Q225,870 258,864" fill="none" stroke="#444" stroke-width="1"/><polygon points="262,863 254,860 255,868" fill="#444"/>
<path d="M202,1015 Q200,1040 270,1048" fill="none" stroke="#444" stroke-width="1"/><polygon points="275,1048 267,1044 267,1052" fill="#444"/>
</g>

<!-- ================= (g) PL plot ================= -->
<g id="pg2">
<g fill="none" stroke-width="1.6" stroke-linejoin="round">
<polyline stroke="#e82020" points="439,1059.3 495.2,1056.7 541.5,1053.3 558.4,1050.7 563.8,1045 568.9,1048.3 583.6,1038.3 600.4,1035 613.1,1026 632,1023.3 651,1028.3 676.2,1038.3 701.5,1046.7 726.7,1051.7 748.6,1056"/>
<polyline stroke="#1a2a9a" points="439,1059 497.3,1053.3 500.3,1046 503.6,1049.3 519.6,1046.7 541.5,1035 556.2,1016.7 561,1005 563.8,973.3 566,985 568.9,988.3 575.2,980 587.8,930 596.2,916.7 602,900 608.9,870 613,855 617.3,843.3 621,838 624,840 627,834 631.2,835 634,833 637,841 642.5,853.3 655.2,893.3 667.8,920 680.4,953.3 693,980 709.9,1000 726.7,1020 748.6,1046.7"/>
</g>
<polyline points="439,813 439,1060 749,1060 749,813 439,813" fill="none" stroke="#333" stroke-width="1.3"/>
<line x1="433" y1="1060" x2="439" y2="1060" stroke="#333" stroke-width="1.3"/>
<g stroke="#333" stroke-width="1.2">
<line x1="433" y1="827" x2="439" y2="827"/><line x1="433" y1="878" x2="439" y2="878"/><line x1="433" y1="931" x2="439" y2="931"/><line x1="433" y1="983" x2="439" y2="983"/><line x1="433" y1="1034" x2="439" y2="1034"/>
<line x1="465" y1="1060" x2="465" y2="1066"/><line x1="520" y1="1060" x2="520" y2="1066"/><line x1="575.4" y1="1060" x2="575.4" y2="1066"/><line x1="630.6" y1="1060" x2="630.6" y2="1066"/><line x1="685.8" y1="1060" x2="685.8" y2="1066"/><line x1="741" y1="1060" x2="741" y2="1066"/>
</g>
<g class="serif" font-size="18" fill="#222" text-anchor="middle">
<text x="465" y="1082">550</text><text x="520" y="1082">600</text><text x="575.4" y="1082">650</text><text x="630.6" y="1082">700</text><text x="685.8" y="1082">750</text><text x="741" y="1082">800</text>
<text x="600" y="1106" textLength="126" lengthAdjust="spacingAndGlyphs">Wavelength (nm)</text>
</g>
<text class="serif" transform="translate(414,952) rotate(-90)" font-size="19" text-anchor="middle" textLength="237" lengthAdjust="spacingAndGlyphs">Photoluminescence (Arb. Units)</text>
<g class="serif" font-size="14.5" fill="#222">
<text x="445" y="832" textLength="196" lengthAdjust="spacingAndGlyphs">298 K, Measured, Single Device,</text>
<text x="445" y="849" textLength="83" lengthAdjust="spacingAndGlyphs">NV Ensemble</text>
<text x="472" y="878">Bare</text>
<text x="472" y="903">Extractor</text>
</g>
<line x1="448" y1="873" x2="467" y2="873" stroke="#e82020" stroke-width="2"/>
<line x1="448" y1="898" x2="467" y2="898" stroke="#1a2a9a" stroke-width="2"/>
</g>

<!-- ================= (g) ZPL plot ================= -->
<g id="pg3">
<polyline points="824,1055 902,1055 904,1046 906,1033 908,1046 910,1055 976,1055" fill="none" stroke="#e82020" stroke-width="1.8"/>
<polyline points="824,1053 850,1052 870,1053 896,1053 898,1045 900,900 901,835 902,860 904,1000 906,1050 909,1052 911,1047 913,1052 930,1053 950,1052 976,1053" fill="none" stroke="#1a2a9a" stroke-width="1.8"/>
<rect x="824" y="814" width="152" height="244" fill="none" stroke="#333" stroke-width="1.3"/>
<g stroke="#333" stroke-width="1.2">
<line x1="819" y1="837" x2="824" y2="837"/><line x1="819" y1="874" x2="824" y2="874"/><line x1="819" y1="910" x2="824" y2="910"/><line x1="819" y1="946" x2="824" y2="946"/><line x1="819" y1="983" x2="824" y2="983"/><line x1="819" y1="1019" x2="824" y2="1019"/><line x1="819" y1="1056" x2="824" y2="1056"/>
<line x1="831" y1="1058" x2="831" y2="1064"/><line x1="901" y1="1058" x2="901" y2="1064"/><line x1="973" y1="1058" x2="973" y2="1064"/><line x1="866" y1="1058" x2="866" y2="1061"/><line x1="937" y1="1058" x2="937" y2="1061"/>
</g>
<g class="serif" font-size="18" fill="#222" text-anchor="end">
<text x="817" y="843">1.2</text><text x="817" y="880">1.0</text><text x="817" y="916">0.8</text><text x="817" y="952">0.6</text><text x="817" y="989">0.4</text><text x="817" y="1025">0.2</text><text x="817" y="1062">0</text>
</g>
<g class="serif" font-size="18" fill="#222" text-anchor="middle">
<text x="831" y="1082">636</text><text x="901" y="1082">637</text><text x="973" y="1082">638</text>
<text x="901" y="1101" textLength="126" lengthAdjust="spacingAndGlyphs">Wavelength (nm)</text>
</g>
<text class="serif" transform="translate(780,939) rotate(-90)" font-size="19" text-anchor="middle" textLength="158" lengthAdjust="spacingAndGlyphs">ZPL Intensity (kcts/s)</text>
<g class="serif" font-size="14.5" fill="#222">
<text x="827" y="831" textLength="91" lengthAdjust="spacingAndGlyphs">8 K, Single NV</text>
<text x="827" y="848" textLength="57" lengthAdjust="spacingAndGlyphs">Measured</text>
<text x="830" y="885">Bare</text>
<text x="828" y="922" textLength="55" lengthAdjust="spacingAndGlyphs">Extractor</text>
<text x="828" y="939" textLength="48" lengthAdjust="spacingAndGlyphs">Device 1</text>
</g>
<line x1="830" y1="891" x2="851" y2="891" stroke="#e82020" stroke-width="2"/>
<line x1="830" y1="947" x2="850" y2="947" stroke="#1a2a9a" stroke-width="2"/>
</g>

<!-- ================= (h) top diagram ================= -->
<g id="ph">
<g transform="translate(1040,720) scale(0.33333)" fill="none" stroke="#222" stroke-width="1.1">
<polyline vector-effect="non-scaling-stroke" points="65,110 150,55 525,115 440,170 65,110"/>
<polyline vector-effect="non-scaling-stroke" points="65,110 65,215 440,270 440,170"/>
<polyline vector-effect="non-scaling-stroke" points="525,115 525,210 440,270"/>
<polyline vector-effect="non-scaling-stroke" points="65,215 150,160 525,210"/>
<line vector-effect="non-scaling-stroke" x1="150" y1="55" x2="150" y2="160"/>
<polygon vector-effect="non-scaling-stroke" points="345,150 475,75 475,200 345,275" fill="#c8cfe6" stroke="#222" stroke-width="2"/>
<ellipse vector-effect="non-scaling-stroke" cx="625" cy="160" rx="145" ry="40" stroke="#999"/>
<ellipse vector-effect="non-scaling-stroke" cx="625" cy="262" rx="145" ry="40" stroke="#999"/>
<line vector-effect="non-scaling-stroke" x1="480" y1="160" x2="480" y2="262" stroke="#bbb"/>
<line vector-effect="non-scaling-stroke" x1="770" y1="160" x2="770" y2="262" stroke="#bbb"/>
<polygon points="570,158 580,150 682,150 672,158" fill="#888" stroke="none"/>
<polygon points="672,158 682,150 682,262 672,270" fill="#555" stroke="none"/>
<rect vector-effect="non-scaling-stroke" x="570" y="158" width="102" height="112" fill="#d4d4d4" stroke="#555"/>
<circle cx="615" cy="215" r="45" fill="url(#yglow)" stroke="none"/>
<path vector-effect="non-scaling-stroke" d="M490,205 l15,-5 l10,15 l15,-8 l10,15 l15,-8 l10,15 l15,-8 l10,15 l15,-5 l10,10" stroke="#f5b800" stroke-width="2"/>
<path vector-effect="non-scaling-stroke" d="M622,278 l-8,12 l12,10 l-10,12 l12,10 l-10,12 l12,10 l-8,12 l6,10" stroke="#f5b800" stroke-width="2"/>
<polygon vector-effect="non-scaling-stroke" points="525,390 580,355 725,372 665,410" fill="#c8cfe6" stroke="#333" stroke-width="3"/>
</g>
<g transform="translate(1040,740) scale(0.35714,0.33333)" fill="none" stroke="#222" stroke-width="1.1">
<polyline vector-effect="non-scaling-stroke" points="780,175 860,115 1215,175 1130,235 780,175"/>
<polyline vector-effect="non-scaling-stroke" points="780,175 780,270 1130,330 1130,235"/>
<polyline vector-effect="non-scaling-stroke" points="1215,175 1215,270 1130,330"/>
<polyline vector-effect="non-scaling-stroke" points="780,270 860,210 1215,270"/>
<line vector-effect="non-scaling-stroke" x1="860" y1="115" x2="860" y2="210"/>
<polygon vector-effect="non-scaling-stroke" points="820,180 940,100 940,225 820,300" fill="#c8cfe6" stroke="#222" stroke-width="2"/>
</g>
<line x1="1302" y1="781" x2="1326" y2="786" stroke="#e02020" stroke-width="2"/>
<polygon points="1297,780 1305,777 1303,785" fill="#e02020"/><polygon points="1331,787 1323,783 1324,791" fill="#e02020"/>
<text x="1160" y="755" font-size="27" font-style="italic" fill="#111">M<tspan font-size="16" dy="5">l</tspan></text>
<text x="1315" y="767" font-size="30" font-style="italic" fill="#e02020">g<tspan font-size="20" dy="5" font-style="normal">2</tspan></text>
<text x="1383" y="770" font-size="27" font-style="italic" fill="#111">M<tspan font-size="16" dy="5">r</tspan></text>
<text x="1285" y="866" font-size="27" font-style="italic" fill="#111">M<tspan font-size="16" dy="5">b</tspan></text>
<path d="M1719,787 C1690,770 1640,760 1580,761 C1520,762 1500,775 1501,787 C1502,800 1525,813 1580,814 C1640,815 1690,805 1719,787 Z" fill="url(#lobeL)"/>
<path d="M1719,787 C1760,770 1850,768 1920,769 C1980,770 1996,780 1996,788 C1996,796 1980,806 1920,807 C1850,808 1760,803 1719,787 Z" fill="url(#lobeR)"/>
<path d="M1664,773 Q1670,762 1692,768 Q1700,772 1706,778 Q1685,772 1664,773 Z" fill="#2a50b0"/>
<ellipse cx="1719" cy="806" rx="5" ry="16" fill="#2040a0"/>
<line x1="1719" y1="750" x2="1719" y2="859" stroke="#666" stroke-width="1.2" stroke-dasharray="4,3"/>
<polygon points="1719,743 1715,754 1723,754" fill="#666"/>
<line x1="1668" y1="790" x2="1762" y2="790" stroke="#8a8070" stroke-width="1.2" stroke-dasharray="4,3"/>
<polygon points="1770,790 1760,786 1760,794" fill="#8a8070"/>
<g transform="translate(1719,787) scale(1.8)"><use href="#star"/></g>
<text x="1745" y="866" font-size="26" fill="#111" textLength="95" lengthAdjust="spacingAndGlyphs">Atto-555</text>
</g>

<!-- ================= (h) heatmaps ================= -->
<defs>
<clipPath id="cph1"><rect x="1086" y="925" width="193" height="190"/></clipPath>
<clipPath id="cph3"><rect x="1733" y="926" width="192" height="189"/></clipPath>
</defs>
<g id="phm">
<rect x="1086" y="925" width="193" height="190" fill="url(#hm1)"/>
<g clip-path="url(#cph1)">
<ellipse cx="1132" cy="1020" rx="9" ry="45" fill="#60bca0" opacity="0.6" filter="url(#blur6)"/>
<ellipse cx="1153" cy="1068" rx="30" ry="45" fill="url(#yblob)"/>
<ellipse cx="1160" cy="1115" rx="50" ry="28" fill="url(#cyanb)"/>
</g>
<rect x="1411" y="925" width="192" height="190" fill="url(#hm2)"/>
<rect x="1733" y="926" width="192" height="189" fill="url(#hm2)"/>
<g clip-path="url(#cph3)"><ellipse cx="1819" cy="1115" rx="95" ry="38" fill="url(#hm3glow)"/></g>
<g stroke="#e8ecf8" stroke-width="1" stroke-dasharray="7,4" opacity="0.85">
<line x1="1161" y1="925" x2="1161" y2="1115"/><line x1="1167.5" y1="925" x2="1167.5" y2="1115"/><line x1="1205" y1="925" x2="1205" y2="1115"/><line x1="1211" y1="925" x2="1211" y2="1115"/>
<line x1="1486" y1="925" x2="1486" y2="1115"/><line x1="1492" y1="925" x2="1492" y2="1115"/><line x1="1530" y1="925" x2="1530" y2="1115"/><line x1="1536" y1="925" x2="1536" y2="1115"/>
<line x1="1807" y1="926" x2="1807" y2="1115"/><line x1="1813" y1="926" x2="1813" y2="1115"/><line x1="1851" y1="926" x2="1851" y2="1115"/><line x1="1857" y1="926" x2="1857" y2="1115"/>
</g>
<use href="#star" x="1161" y="1002"/><use href="#star" x="1486" y="1002"/><use href="#star" x="1807" y="1002"/>
<g fill="none" stroke="#444" stroke-width="1">
<rect x="1086" y="925" width="193" height="190"/><rect x="1411" y="925" width="192" height="190"/><rect x="1733" y="926" width="192" height="189"/>
<rect x="1300" y="928" width="20" height="187" fill="url(#parula)"/><rect x="1623" y="928" width="20" height="187" fill="url(#parula)"/><rect x="1947" y="928" width="19" height="187" fill="url(#parula)"/>
</g>
<g id="hticks" stroke="#333" stroke-width="1"></g>
<g font-size="14" fill="#222" text-anchor="end">
<text x="1082" y="930">400</text><text x="1082" y="978">300</text><text x="1082" y="1025">200</text><text x="1082" y="1073">100</text><text x="1082" y="1120">0</text>
<text x="1407" y="930">400</text><text x="1407" y="978">300</text><text x="1407" y="1025">200</text><text x="1407" y="1073">100</text><text x="1407" y="1120">0</text>
<text x="1729" y="931">400</text><text x="1729" y="978">300</text><text x="1729" y="1025">200</text><text x="1729" y="1073">100</text><text x="1729" y="1120">0</text>
</g>
<g font-size="14" fill="#222" text-anchor="middle">
<text x="1086" y="1134">400</text><text x="1134" y="1134">500</text><text x="1182.5" y="1134">600</text><text x="1231" y="1134">700</text><text x="1279" y="1134">800</text>
<text x="1411" y="1134">400</text><text x="1459" y="1134">500</text><text x="1507" y="1134">600</text><text x="1555" y="1134">700</text><text x="1603" y="1134">800</text>
<text x="1733" y="1134">400</text><text x="1781" y="1134">500</text><text x="1829" y="1134">600</text><text x="1877" y="1134">700</text><text x="1925" y="1134">800</text>
</g>
<g font-size="17.5" fill="#222" text-anchor="middle">
<text x="1182" y="1157">Wavelength (nm)</text><text x="1507" y="1157">Wavelength (nm)</text><text x="1829" y="1157">Wavelength (nm)</text>
</g>
<g font-size="13" fill="#222">
<text x="1326" y="944">15</text><text x="1326" y="1003">10</text><text x="1326" y="1061">5</text><text x="1326" y="1119">0</text>
<text x="1649" y="944">15</text><text x="1649" y="1003">10</text><text x="1649" y="1061">5</text><text x="1649" y="1119">0</text>
<text x="1971" y="944">15</text><text x="1971" y="1003">10</text><text x="1971" y="1061">5</text><text x="1971" y="1119">0</text>
</g>
<g font-size="15" fill="#222" text-anchor="middle">
<text x="1310" y="904">Purcell</text><text x="1310" y="918">factor</text>
<text x="1633" y="904">Purcell</text><text x="1633" y="918">factor</text>
<text x="1956" y="904">Purcell</text><text x="1956" y="918">factor</text>
</g>
<g font-size="22" fill="#111" text-anchor="middle" font-style="italic">
<text x="1185" y="914">M<tspan font-size="14" dy="4">l</tspan></text>
<text x="1508" y="914">M<tspan font-size="14" dy="4" font-style="normal">b</tspan></text>
<text x="1830" y="914">M<tspan font-size="14" dy="4" font-style="normal">r</tspan></text>
</g>
<g font-size="17" fill="#222" text-anchor="middle">
<text transform="translate(1038,1020) rotate(-90)"><tspan font-style="italic">g</tspan><tspan font-size="11" dy="4">2</tspan><tspan dy="-4"> (nm)</tspan></text>
<text transform="translate(1364,1020) rotate(-90)"><tspan font-style="italic">g</tspan><tspan font-size="11" dy="4">2</tspan><tspan dy="-4"> (nm)</tspan></text>
<text transform="translate(1686,1020) rotate(-90)"><tspan font-style="italic">g</tspan><tspan font-size="11" dy="4">2</tspan><tspan dy="-4"> (nm)</tspan></text>
</g>
</g>
</svg>
<script>
(function(){
var NS="http://www.w3.org/2000/svg";
function ln(g,x1,y1,x2,y2){var l=document.createElementNS(NS,"line");l.setAttribute("x1",x1);l.setAttribute("y1",y1);l.setAttribute("x2",x2);l.setAttribute("y2",y2);g.appendChild(l);}
function rng(seed){var s=seed>>>0;return function(){s=(Math.imul(s,1664525)+1013904223)>>>0;return s/4294967296;};}
function interp(p,x){for(var i=1;i<p.length;i++){if(x<=p[i][0]){var a=p[i-1],b=p[i];return a[1]+(b[1]-a[1])*(x-a[0])/(b[0]-a[0]);}}return p[p.length-1][1];}
function noisy(id,p,x0,x1,n,amp,spk,seed){var r=rng(seed),d="";for(var i=0;i<=n;i++){var x=x0+(x1-x0)*i/n;var y=interp(p,x)+(r()+r()-1)*amp;if(r()<0.08)y+=(r()-0.5)*spk;d+=(i?"L":"M")+x.toFixed(1)+","+y.toFixed(1);}document.getElementById(id).setAttribute("d",d);}
var g,i,x,y;
g=document.getElementById("aticks");
for(i=0;i<=18;i++){x=77+i*25*0.8556;ln(g,x,319,x,319-(i%2?3:5));}
g=document.getElementById("bticks");
for(i=0;i<=10;i++){y=303.5-i*0.1*244.5;var L=i%2?3:5;ln(g,562,y,562+L,y);ln(g,985,y,985-L,y);}
for(i=-1;i<=13;i++){x=578+i*0.075*420;if(x<562||x>985)continue;var L2=i%2?3:5;ln(g,x,304,x,304-L2);}
for(i=0;i<=11;i++){var lam=800-i*25;x=578+(1239.84/lam-1.5)*420;if(x>985)continue;ln(g,x,52,x,52+(i%2?3:5));}
g=document.getElementById("cticks");
var cx=[1097,1139,1184,1226,1270,1313,1355,1399,1442];
for(i=0;i<cx.length;i++){ln(g,cx[i],51,cx[i],60);ln(g,cx[i],303,cx[i],294);}
for(i=0;i<=7;i++){y=302-i*50*0.645;var L3=i%2?5:9;ln(g,1095,y,1095+L3,y);ln(g,1476,y,1476-L3,y);}
g=document.getElementById("eticks");
for(i=0;i<=20;i++){y=722-i*2*7.95;var L4=i%5?5:9;ln(g,81,y,81+L4,y);}
for(i=0;i<=16;i++){x=82+i*10*2.34;var L5=i%5?5:9;ln(g,x,724,x,724-L5);}
g=document.getElementById("hticks");
[[1086,1279,925],[1411,1603,925],[1733,1925,926]].forEach(function(b){
 for(var k=0;k<=4;k++){var yy=1115-k*47.5;ln(g,b[0],yy,b[0]+4,yy);ln(g,b[1],yy,b[1]-4,yy);var xx=b[0]+k*(b[1]-b[0])/4;ln(g,xx,1115,xx,1111);ln(g,xx,b[2],xx,b[2]+4);}
});
[1300,1623,1947].forEach(function(c){[939.7,998,1056.6].forEach(function(yy){ln(g,c+16,yy,c+20,yy);ln(g,c,yy,c+4,yy);});});
noisy("cred",[[1096.8,230],[1106.5,186.7],[1119.4,156.7],[1135.5,140],[1154.8,126.7],[1171,100],[1183.9,80],[1193.5,71.7],[1206.5,86.7],[1219.4,110],[1232.3,130],[1245.2,150],[1258,173.3],[1271,200],[1283.9,220],[1303.2,233.3],[1322.6,246.7],[1348.4,263.3],[1367.7,270],[1387,276.7],[1419.4,283.3],[1451.6,288.3],[1474.2,293.3]],1096,1475,700,13,26,7);
noisy("cgray",[[1096.8,288.3],[1116.1,275],[1141.9,265],[1174.2,261.7],[1193.5,263.3],[1222.6,268.3],[1258,276.7],[1296.8,285],[1335.5,290],[1367.7,292.7]],1096,1368,300,5,8,11);
noisy("eor",[[82,537],[120,540],[160,545],[190,548],[230,540],[245,526],[270,530],[320,532],[360,530],[400,527],[458,532]],82,458,1300,23,56,3);
noisy("ebl",[[82,614],[120,618],[160,622],[200,618],[245,612],[280,616],[320,618],[360,620],[400,624],[430,628],[458,630]],82,458,1300,22,52,5);
})();
</script>
</body></html>
